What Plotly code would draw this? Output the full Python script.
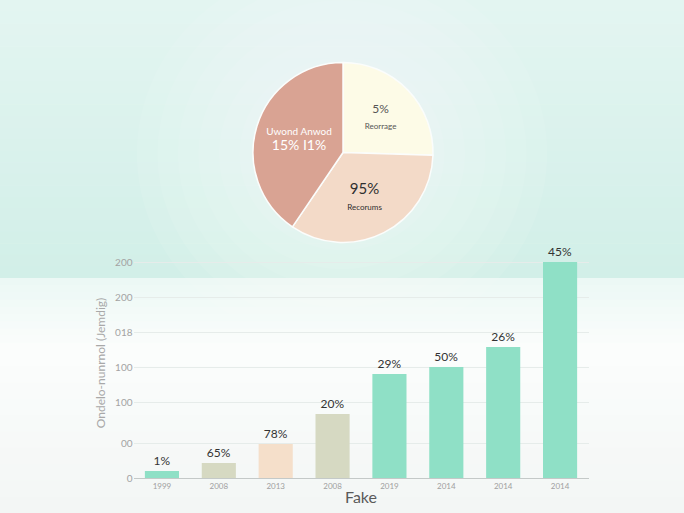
import plotly.graph_objects as go

# pie (top)
pie_labels = ["Reorrage", "Recorums", "Uwond Anwod"]
pie_values = [25.5, 34.0, 40.5]
pie_text = ["5%", "95%", "15% I1%"]

# bars (bottom)
years = ["1999", "2008", "2013", "2008", "2019", "2014", "2014", "2014"]
bar_values = [7, 15, 34, 64, 104, 111, 131, 216]
bar_text = ["1%", "65%", "78%", "20%", "29%", "50%", "26%", "45%"]
ytick_vals = [0, 35, 76, 111, 146, 181, 216]
ytick_text = ["0", "00", "100", "100", "018", "200", "200"]

TEAL = "#8fe0c6"
SAGE = "#d6d9c2"
PEACH = "#f5dfca"
bar_colours = [TEAL, SAGE, PEACH, SAGE, TEAL, TEAL, TEAL, TEAL]
pie_colours = ["#fdfbe7", "#f3dac8", "#d9a393"]
pie_font_colours = ["#555555", "#2f2f2f", "white"]

pie_html = [
    f"<span style='font-size:12px'>{pie_text[0]}</span><br><span style='font-size:8px'>{pie_labels[0]}</span>",
    f"<span style='font-size:15px'>{pie_text[1]}</span><br><span style='font-size:8px'>{pie_labels[1]}</span>",
    f"<span style='font-size:10px'>{pie_labels[2]}</span><br><span style='font-size:14px'>{pie_text[2]}</span>",
]

W, H = 684, 513
BAND = 278  # px from top where the mint band ends


def hex_mix(a, b, t):
    a = [int(a[i:i + 2], 16) for i in (1, 3, 5)]
    b = [int(b[i:i + 2], 16) for i in (1, 3, 5)]
    return "#" + "".join(f"{round(x + (y - x) * t):02x}" for x, y in zip(a, b))


def band_rects(top_px, bottom_px, c_top, c_bottom, steps):
    out = []
    h = (bottom_px - top_px) / steps
    for i in range(steps):
        y0 = top_px + i * h
        out.append(dict(
            type="rect", xref="paper", yref="paper", x0=0, x1=1,
            y0=(H - y0 - h - 0.5) / H, y1=(H - y0) / H,
            fillcolor=hex_mix(c_top, c_bottom, i / max(steps - 1, 1)),
            line=dict(width=0), layer="below",
        ))
    return out


shapes = []
shapes += band_rects(0, BAND, "#e3f5f1", "#d2efe8", 24)
shapes += band_rects(BAND, 350, "#ecf8f5", "#fbfdfc", 10)
shapes += band_rects(350, H, "#fbfdfc", "#f3f6f5", 10)
# whitish glow behind the pie
for k in range(8):
    r = 0.30 - k * 0.03
    shapes.append(dict(
        type="circle", xref="paper", yref="paper",
        x0=0.5 - r, x1=0.5 + r, y0=0.70 - r * 1.25, y1=0.70 + r * 1.25,
        fillcolor="white", opacity=0.08, line=dict(width=0), layer="below",
    ))

fig = go.Figure()
fig.add_trace(go.Pie(
    labels=pie_labels,
    values=pie_values,
    text=pie_html,
    textinfo="text",
    textposition="inside",
    insidetextorientation="horizontal",
    sort=False,
    direction="clockwise",
    rotation=0,
    marker=dict(colors=pie_colours, line=dict(color="#fbfdfc", width=1.5)),
    textfont=dict(color=pie_font_colours, family="Lato, sans-serif"),
    domain=dict(x=[253 / W, 433 / W], y=[(H - 243) / H, (H - 62) / H]),
    showlegend=False,
    hoverinfo="label+percent",
))

fig.add_trace(go.Bar(
    x=list(range(len(years))),
    y=bar_values,
    text=bar_text,
    textposition="outside",
    cliponaxis=False,
    textfont=dict(size=12, color="#333333", family="Lato, sans-serif"),
    marker=dict(color=bar_colours, line=dict(width=0)),
    width=0.6,
    showlegend=False,
))

fig.update_layout(
    width=W,
    height=H,
    margin=dict(l=0, r=0, t=0, b=0),
    paper_bgcolor="#f6f9f8",
    plot_bgcolor="rgba(0,0,0,0)",
    font=dict(family="Lato, sans-serif", color="#999999"),
    bargap=0.4,
    shapes=shapes,
    xaxis=dict(
        domain=[133.5 / W, 588.5 / W],
        range=[-0.5, 7.5],
        tickvals=list(range(len(years))),
        ticktext=years,
        tickfont=dict(size=8, color="#a0a0a0"),
        showgrid=False,
        showline=True,
        linecolor="#c4c9c8",
        linewidth=1,
        ticks="",
        automargin=False,
        title=dict(text="Fake", font=dict(size=16, color="#5a5a5a"), standoff=2),
    ),
    yaxis=dict(
        domain=[(H - 478) / H, (H - 248) / H],
        range=[0, 230],
        tickvals=ytick_vals,
        ticktext=ytick_text,
        tickfont=dict(size=10, color="#a3a3a3"),
        showgrid=True,
        gridcolor="#e6ecea",
        gridwidth=1,
        zeroline=False,
        automargin=False,
        title=dict(text="Ondelo-nunrnol (Jemdig)", font=dict(size=12, color="#a8a8a8"), standoff=6),
    ),
)

fig.write_html(
    "out.html",
    config={"displayModeBar": False},
    post_script="document.body.style.margin='0px';",
)
